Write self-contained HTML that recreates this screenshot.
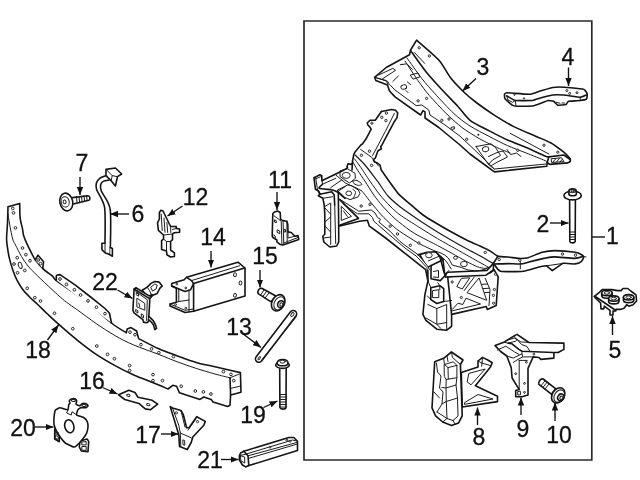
<!DOCTYPE html>
<html><head><meta charset="utf-8"><title>Radiator Support Diagram</title>
<style>
html,body{margin:0;padding:0;background:#fff;}
body{width:640px;height:480px;overflow:hidden;font-family:"Liberation Sans",sans-serif;}
svg{display:block;position:absolute;left:0;top:0;will-change:transform;}
.l{font-family:"Liberation Sans",sans-serif;font-size:23px;fill:#111;stroke:#111;stroke-width:0.3;text-anchor:middle;}
.o{fill:#fff;stroke:#141414;stroke-width:1.6;stroke-linejoin:round;stroke-linecap:round;}
.n{fill:none;stroke:#141414;stroke-width:1.6;stroke-linejoin:round;stroke-linecap:round;}
.t{fill:none;stroke:#1c1c1c;stroke-width:1.0;stroke-linejoin:round;stroke-linecap:round;}
.h{fill:#fff;stroke:#1c1c1c;stroke-width:0.95;}
.a{fill:none;stroke:#111;stroke-width:1.35;}
.ah{fill:#111;stroke:none;}
.f{fill:none;stroke:#2a2a2a;stroke-width:1.7;}
</style></head><body>
<svg width="640" height="480" viewBox="0 0 640 480">
<defs>
<marker id="ar" viewBox="0 0 10 8" refX="10" refY="4" markerWidth="8" markerHeight="7" markerUnits="userSpaceOnUse" orient="auto"><path d="M0,0 L10,4 L0,8 Z" fill="#111"/></marker>
</defs>
<g id="frame">
<path class="f" d="M304,21 H591.8 V460 H304 Z"/>
<path class="a" d="M591.8,237 H605" style="stroke-width:1.4"/>
</g>
<g id="p18">
<path class="o" d="M19.7,203.4C19.8,205.9 19.7,214.2 20.2,218.4C20.7,222.6 21.9,225.9 22.5,228.8C23.1,231.6 22.8,232.9 23.6,235.5C24.4,238.1 25.8,241.4 27.2,244.4C28.6,247.4 30.6,251.2 31.9,253.8C33.2,256.3 33.2,257.1 35.2,259.8C37.2,262.5 41.1,267 44,269.7C46.9,272.4 50.5,274.5 52.5,276.2C54.5,278 53.1,278 56,280.3C58.9,282.6 66.8,287.8 70,290C73.2,292.2 71.7,291.1 75,293.5C78.3,295.9 83.9,299.4 90,304.3C96.1,309.2 105.5,318.2 111.5,323C117.5,327.8 123.8,331.2 126.3,332.8L127.2,329L131,327.6L136.6,331L138.6,338.6L138.6,338.6C142,340.3 152.3,345.9 158.8,348.8C165.2,351.6 171.2,353.6 177.5,355.9C183.8,358.2 190,360.6 196.2,362.4C202.5,364.2 209.4,365.5 215,366.8C220.6,368.1 225.8,369.2 230,370.2C234.2,371.2 238.7,372.2 240.4,372.6L241,392.3L230.6,395L230,405.3L227.6,406.4L227.6,406.4L213,402L211.2,399.4L203.8,397L200,399.4L179.4,392.8L176.6,386.2L172.8,385.3L168,389L168,389C165.4,387.9 158.2,384.8 152.5,382.5C146.8,380.2 140,377.8 133.8,375C127.5,372.2 121.2,369 115,365.6C108.8,362.2 102.5,358.6 96.2,354.4C90,350.2 83.8,345.3 77.5,340.3C71.2,335.3 63.8,328.8 58.8,324.4C53.8,320 51,317.3 47.5,314C44,310.7 41.1,307.7 38,304.7C34.9,301.7 31.4,298.9 28.8,296.2C26.1,293.6 24.2,291.6 22.2,288.8C20.2,285.9 18.2,282.5 16.6,279.4C15,276.3 14,273.5 12.8,270C11.6,266.5 10.4,262.7 9.4,258.4C8.4,254.1 7.5,248 7,244.4C6.5,240.8 6.5,240.6 6.6,237C6.7,233.4 7.3,228.1 7.5,223C7.7,217.9 7.9,209.4 8,206.7Z" />
<path class="t" d="M8,213.8C8.2,215.3 8.9,219.9 9.4,223C9.9,226.1 10.7,229.7 11.2,232.5C11.8,235.3 12.3,237.9 13,240C13.7,242.1 14.1,242.2 15.5,245C16.9,247.8 19.5,253.1 21.6,256.6C23.7,260.1 25.4,262.8 28,266C30.6,269.2 33.5,271.9 37.5,275.8C41.5,279.8 48,285.8 52.2,289.7C56.4,293.6 59.5,296.5 62.5,299C65.5,301.5 67.5,302.9 70,304.7C72.5,306.5 73.1,306.9 77.5,310C81.9,313.1 90,319.3 96.2,323.6C102.5,327.9 108.8,332 115,335.6C121.2,339.2 126.5,341.9 133.8,345C141,348.1 151.5,351.6 158.8,354.4C166,357.2 171.2,359.6 177.5,361.9C183.8,364.2 190,366.4 196.2,368.4C202.5,370.4 209.4,372.4 215,374C220.6,375.6 227.5,377.2 230,377.8" />
<path class="n" d="M230,377.8L230.6,395" />
<path class="t" d="M230,377.8L239.4,374" />
<path class="t" d="M230.5,388.4L240.8,386" />
<path class="o" d="M35.2,259.8L38,255.2L43.6,261.7L42.7,268.6" />
<path class="o" d="M56.3,280L56.3,276L57.2,275L60,274.6L75,284.8L90,296.5L105,308.5L109.4,313L111.5,323" />
<circle class="h" cx="12.8" cy="208.4" r="1.35"/><circle class="h" cx="13.5" cy="212.9" r="1.35"/><circle class="h" cx="15.4" cy="227.9" r="1.35"/><circle class="h" cx="22.5" cy="248" r="1.35"/><circle class="h" cx="25.9" cy="254.7" r="1.35"/><circle class="h" cx="30" cy="260.7" r="1.35"/><circle class="h" cx="17.2" cy="257.7" r="1.35"/><circle class="h" cx="14" cy="264" r="1.35"/><circle class="h" cx="24.8" cy="270.5" r="1.35"/><circle class="h" cx="17.5" cy="272.8" r="1.35"/><circle class="h" cx="27.2" cy="288.3" r="1.35"/><circle class="h" cx="34.8" cy="297.7" r="1.35"/><circle class="h" cx="40.5" cy="301" r="1.35"/><circle class="h" cx="54.5" cy="313.3" r="1.35"/><circle class="h" cx="72.8" cy="328.7" r="1.35"/><circle class="h" cx="96.8" cy="346" r="1.35"/><circle class="h" cx="107.5" cy="354.4" r="1.35"/><circle class="h" cx="114.4" cy="358.7" r="1.35"/><circle class="h" cx="129.6" cy="365.6" r="1.35"/><circle class="h" cx="129.6" cy="370.5" r="1.35"/><circle class="h" cx="153" cy="374.6" r="1.35"/><circle class="h" cx="153" cy="380.6" r="1.35"/><circle class="h" cx="162.5" cy="380.6" r="1.35"/><circle class="h" cx="181.2" cy="386.2" r="1.35"/><circle class="h" cx="195.3" cy="391" r="1.35"/><circle class="h" cx="203.4" cy="391.9" r="1.35"/><circle class="h" cx="210.9" cy="394" r="1.35"/><circle class="h" cx="141" cy="344.6" r="1.35"/><circle class="h" cx="151.6" cy="348.8" r="1.35"/><circle class="h" cx="158.8" cy="352.7" r="1.35"/><circle class="h" cx="173.4" cy="356.6" r="1.35"/><circle class="h" cx="223.4" cy="371.6" r="1.35"/><circle class="h" cx="231" cy="374.4" r="1.35"/><circle class="h" cx="233.8" cy="380.6" r="1.35"/><circle class="h" cx="38.2" cy="260" r="1.35"/><circle class="h" cx="40.5" cy="263.6" r="1.35"/><circle class="h" cx="130" cy="332.2" r="1.35"/><circle class="h" cx="135" cy="334.7" r="1.35"/><circle class="h" cx="60" cy="279" r="1.35"/><circle class="h" cx="66.5" cy="284.4" r="1.35"/><circle class="h" cx="74.4" cy="289.8" r="1.35"/><circle class="h" cx="80.6" cy="295" r="1.35"/><circle class="h" cx="88" cy="300.9" r="1.35"/><circle class="h" cx="96.5" cy="307.2" r="1.35"/><circle class="h" cx="105" cy="313.6" r="1.35"/><ellipse class="h" cx="20.2" cy="265.4" rx="1.8" ry="3.2" transform="rotate(-18 20.2 265.4)"/>
</g>
<g id="p7">
<path class="o" d="M72.5,197.6L87.8,195.7C90.2,195.6 90.6,199.6 88.8,200.2L88.8,200.2L73.3,204" />
<path class="t" d="M76.5,196.7L77.1,203.1" />
<path class="t" d="M79,196.4L79.6,202.3" />
<path class="t" d="M81.5,196.1L82.1,201.6" />
<path class="t" d="M84,195.8L84.6,200.8" />
<path class="t" d="M86.5,195.5L87.1,200.1" />
<ellipse class="o" cx="66.3" cy="202" rx="6.4" ry="9" transform="rotate(-12 66.3 202)"/><ellipse class="t" cx="65.2" cy="201.9" rx="4.0" ry="5.2" transform="rotate(-12 65.2 201.9)"/><ellipse class="t" cx="64.6" cy="201.8" rx="1.5" ry="1.9" transform="rotate(-12 64.6 201.8)"/>
</g>
<g id="p6">
<path class="o" d="M107,175.4C106,175.8 101.2,177.3 99.8,178.3C98.4,179.3 96.8,181.5 96.4,183C96,184.5 95.5,186.2 96.6,189.5C97.7,192.8 103.5,200.3 104.6,207.5C105.7,214.7 104.9,238.5 105,243.3L101.9,243.3L101.9,249.6L105,252.7L110.2,254.8L110.2,254.8C110.2,248.8 111.4,218 110.2,209.5C109,201 102.7,194.5 101.4,191.3C100.1,188.1 100.4,186.5 100.6,185.2C100.8,183.9 101.9,182.1 103.2,181.4C104.5,180.7 109.1,180 110,179.8Z" />
<path class="t" d="M105,243.3L105,252.7" />
<path class="o" d="M110.2,247.5L112.4,248.5L112.4,256.3L110.2,254.8" />
<path class="o" d="M106,169.4L115.4,168L121.7,174L117.5,176.7L115.4,186L111.2,180.8L106,175.6Z" />
<path class="t" d="M106,169.4L112.2,175.6L117.5,176.7" />
<path class="t" d="M112.2,175.6L111.2,180.8" />
</g>
<g id="p12">
<path class="o" d="M160.9,210.2L163,211L170.6,226.5L176.2,226.5L176.2,228.4L179.6,229L179.6,232.2L174.4,232.8L172.5,234L172.5,239.7L170.6,241.5L170.6,250L174.4,252.8L174.4,256.5L170.6,257L166.9,254.7L166.5,251L161.6,249.6L161.6,240.6L163.5,239L163.5,235L158.4,230.3L157.5,222.8L159.4,219L159.4,212.5Z" />
<path class="t" d="M161.2,214L162.2,230.5" />
<path class="t" d="M164,218L165,232.3" />
<path class="t" d="M166.9,222.5L167.7,232.5" />
<path class="t" d="M163.5,235L172.5,234" />
<path class="t" d="M170.6,226.5L170.8,232.5" />
<path class="t" d="M163.5,239L166.5,241.5L166.5,251" />
<path class="t" d="M166.5,241.5L170.6,241.5" />
<path class="t" d="M172.5,229.5L176.2,228.4" />
</g>
<g id="p11">
<path class="o" d="M272.8,213.8L274.4,211.9L277.5,211L280.2,212.5L280.6,219.4L283,220.6L286.9,221.2L287.8,224.4L288,231.9L291.2,232.5L295,236.2L298,235.6L298.8,239.4L283,245L280,244.4L276.9,241.9L276.9,240L273,237.5L272.2,236.2Z" />
<path class="t" d="M273.8,215.6L281.2,221.2L281.9,243.5" />
<path class="t" d="M283,220.6L283.8,244.2" />
<path class="t" d="M286.9,221.2L287.2,243" />
<path class="t" d="M288,231.9L288,238L295,236.2" />
<path class="t" d="M283.8,243L298,237.5" />
<path class="t" d="M274.8,220L276.3,220.6L276.3,222.8L274.8,222.2Z" />
<path class="t" d="M277.5,230L279.8,231L279.8,233.6L277.5,232.6Z" />
<path class="t" d="M284.4,229.4L285.6,229.4L285.6,232L284.4,232Z" />
<path class="t" d="M273.5,235L275.2,236L275.2,238.5" />
</g>
<g id="p14">
<path class="o" d="M186.6,277.3L238,262.2L245,268L245,296L193.6,311.2L185,312.5L170,306L170,304L176.4,302.3L176.4,288.3L171.7,286L171.7,283.6L184.2,279.7Z" />
<path class="n" d="M193.6,283.6L244.6,268" />
<path class="t" d="M191.5,280.6L239.5,265.8" />
<path class="n" d="M186.6,277.3L191.5,280.6L193.6,283.6L193.6,311.2" />
<path class="n" d="M171.7,286L185,291.4L190.5,289.8L193.6,283.6" />
<path class="t" d="M178.8,289L178.8,301.5L189,300" />
<path class="t" d="M189,291L189,311.8" />
<path class="t" d="M176.4,302.3L178.8,301.5" />
<path class="t" d="M170,304L185,310.3L193.6,309" />
<ellipse class="h" cx="235" cy="274.7" rx="1.4" ry="1.9" transform="rotate(15 235 274.7)"/><ellipse class="h" cx="240.5" cy="283" rx="1.4" ry="1.9" transform="rotate(15 240.5 283)"/><ellipse class="h" cx="235" cy="295.3" rx="1.4" ry="1.9" transform="rotate(15 235 295.3)"/><circle class="h" cx="176.9" cy="284" r="0.9"/><circle class="h" cx="185.8" cy="288" r="0.9"/><circle class="h" cx="175.6" cy="304.6" r="0.9"/><circle class="h" cx="185.8" cy="308.2" r="0.9"/>
</g>
<g id="p15">
<path class="o" d="M261.8,288.2 L275.8,296 L271,301.8 L258.2,293.6 C257,291 259,288 261.8,288.2Z" />
<path class="t" d="M264.3,289.6L260.5,295.1" />
<path class="t" d="M266.8,291L262.8,296.6" />
<path class="t" d="M269.4,292.4L265.1,298" />
<ellipse class="o" cx="278.2" cy="302.8" rx="6.2" ry="8.6" transform="rotate(28 278.2 302.8)"/><ellipse class="t" cx="279.2" cy="303.3" rx="4.8" ry="7" transform="rotate(28 279.2 303.3)"/><ellipse class="o" cx="280.8" cy="304.2" rx="3" ry="3.6" transform="rotate(28 280.8 304.2)"/><ellipse class="t" cx="281.3" cy="304.5" rx="1.4" ry="1.7" transform="rotate(28 281.3 304.5)"/>
</g>
<g id="p13">
<path class="o" d="M261.6,361 L295.9,316 A3.4,3.4 0 0 0 290.5,311.8 L256.2,356.8 A3.4,3.4 0 0 0 261.6,361Z" />
<path class="t" d="M262.2,359.3L296.2,316.9" />
<ellipse class="h" cx="292.4" cy="314.6" rx="1.3" ry="2.2" transform="rotate(35 292.4 314.6)"/><ellipse class="h" cx="259.2" cy="358.2" rx="0.8" ry="1.8" transform="rotate(35 259.2 358.2)"/>
</g>
<g id="p22">
<path class="o" d="M142.2,290.2L147.2,287.1L151,283.4L154.8,281.5L159.1,282.1L162.2,285.9L159.8,288.4L157.2,293.4L152.9,295.2L150.4,297.8L149.1,298.4Z" />
<path class="t" d="M151,287L154.8,284L157.2,285.2L156,289L152.9,290.9Z" />
<path class="t" d="M147.2,287.1L149.5,290.5L151.5,295" />
<path class="o" d="M134.1,289L136,287.8L149.1,295.9L152.2,294.6L150.4,297.8L149.1,298.4" />
<path class="o" d="M134.1,289L149.1,298.4L149.8,300.2L148.5,321.5L146.6,322.8L143.5,322.1L142.9,319.6L134.1,312.8L132.9,310.2Z" />
<path class="t" d="M137.2,298.4L144.8,303.4L144.8,310.2L137.2,307.1Z" />
<path class="t" d="M136.6,292.8L138.5,294L138.5,296.2L136.6,295Z" />
<path class="t" d="M136,309.6L137.9,310.8L137.9,313L136,311.8Z" />
<path class="t" d="M141.6,314L143.5,315.2L143.5,317.8L141.6,316.6Z" />
<path class="t" d="M135.6,291.3L147.3,299.8L146.6,320.5" />
<path class="t" d="M138.8,303L139.8,306.8" />
<path class="o" d="M149.1,316.6 C151.5,318.5 154.6,322 155.6,325 L156.6,328.4 L154.75,329.6 L153.75,325.6 C153,323.2 151,321.4 148.6,319.6" />
</g>
<g id="p16">
<path class="o" d="M118.6,394.8L128.8,390.2L135,392.5L138,397.2L152.2,400.3L157.7,404.2L150.6,409.7L145.2,408.9L138.9,403.4L124.8,399.5Z" />
<ellipse class="h" cx="128.4" cy="395.3" rx="1.7" ry="1.1" transform="rotate(10 128.4 395.3)"/><ellipse class="h" cx="148.3" cy="404.7" rx="1.7" ry="1.1" transform="rotate(10 148.3 404.7)"/>
</g>
<g id="p20">
<path class="o" d="M54.7,429L54.7,439L59.3,441.7L59.3,435.7Z" />
<path class="o" d="M80,441L87.3,439L88.7,441.7L88,451.7L81.3,451L79.3,447Z" />
<path class="o" d="M54,417C54.1,416.4 54.7,411.2 55.3,410.3C55.9,409.4 59.2,407.8 60,407.7C60.8,407.6 63.3,408.8 64,409C64.7,409.2 67.6,410.1 68,409.7C68.4,409.3 68.5,405.6 68.7,405C68.9,404.4 69.9,403.4 70,403C70.1,402.6 69.2,401.4 69.3,401C69.4,400.6 70.7,399.2 71.3,399C71.9,398.8 74.8,398.8 75.3,399C75.8,399.2 76.6,400.5 76.7,401C76.8,401.5 75.7,403.9 76,404.3C76.3,404.7 79.4,405.8 80,405.7C80.6,405.6 81.4,403.9 82,403.7C82.6,403.5 85.4,403.5 86,403.7C86.6,403.9 88,405.3 88,405.7C88,406.1 86.7,407.5 86,407.7C85.3,407.9 81.4,407.5 80.7,407.7C80,407.9 78.4,409 78,409.7C77.6,410.4 76.1,414.3 76.7,415C77.3,415.7 83,417.1 84,417.7C85,418.3 86.9,420.8 87.3,421.7C87.7,422.6 88.1,425.9 88,427C87.9,428.1 87.1,431.9 86.7,433C86.3,434.1 84,437.4 83.3,438.3C82.6,439.2 80.1,442.2 79.3,443C78.5,443.8 75.5,446.7 74.7,447C73.9,447.3 71.6,446.1 70.7,445.7C69.8,445.3 66.2,443.7 65.3,443C64.4,442.3 61.5,438.8 60.7,437.7C59.9,436.6 57.3,433 56.7,431.7C56.1,430.4 54.3,425.7 54,424.3C53.7,422.9 54,417.7 54,417Z" />
<ellipse class="o" cx="69.3" cy="426.3" rx="4.5" ry="6.6" transform="rotate(-15 69.3 426.3)"/><ellipse class="t" cx="73.4" cy="400.4" rx="2.1" ry="1" transform="rotate(5 73.4 400.4)"/><ellipse class="t" cx="84.1" cy="405.4" rx="2.1" ry="1" transform="rotate(5 84.1 405.4)"/><path class="t" d="M68,409.7L66.7,413L71.3,415L72,411.7L76.7,415" />
<path class="t" d="M55.6,431.2L58.2,432.5L58.2,435L55.6,433.8Z" />
<path class="t" d="M55.6,435.4L58.2,436.7L58.2,439.6L55.6,438.3Z" />
<path class="t" d="M82.2,442L86.2,441.5L86.2,444.8L82.2,445Z" />
<path class="t" d="M82.2,446.6L86.2,446.4L86.2,450.4L82.2,450.2Z" />
</g>
<g id="p17">
<path class="o" d="M170.2,406.6L172.5,408L181,410.5L183.4,415L186.6,427.7L189,427.7L196.7,416.7L205.3,421.4L203.8,425.3L192.8,437L191.2,442.5L187.3,449.5L179.5,446.4L178.8,434.7Z" />
<path class="t" d="M172.5,408L178.8,425.3L180.3,433L191.2,437.8" />
<path class="t" d="M181,410.5L185,427" />
<path class="t" d="M196.7,416.7L195.2,420L188,430" />
<path class="t" d="M180.3,433L180.8,446.5" />
<circle class="h" cx="176.4" cy="412.8" r="1.1"/><circle class="h" cx="197.5" cy="421.6" r="1.1"/><path class="t" d="M183.2,440L184.6,440.4L184.8,445.2L183.4,444.8Z" />
</g>
<g id="p19">
<path class="o" d="M279.7,367 L279.9,407.5 C280.5,409.6 285.5,409.6 286,407.5 L286.2,367 Z" />
<path class="t" d="M279.8,394.5L286.1,394.5" />
<path class="t" d="M279.8,397L286.1,397" />
<path class="t" d="M279.8,399.5L286.1,399.5" />
<path class="t" d="M279.8,402L286.1,402" />
<path class="t" d="M279.8,404.5L286.1,404.5" />
<path class="t" d="M279.8,407L286.1,407" />
<ellipse class="o" cx="282.5" cy="365" rx="6.8" ry="3.4" transform="rotate(0 282.5 365)"/><path class="o" d="M277.2,363.2 C277.2,358.2 288,358.2 288,363.2 C288,366.6 277.2,366.6 277.2,363.2Z" />
<ellipse class="t" cx="282.6" cy="361.6" rx="2.6" ry="1.5" transform="rotate(0 282.6 361.6)"/>
</g>
<g id="p21">
<path class="o" d="M239.4,455.6L240.6,453L243.8,451.2L288.8,437.5L293.8,437.5L297.5,441.2L297.5,450.6L248.8,465.6L245.6,466.9L242.5,465L239.4,460Z" />
<path class="t" d="M245,454.4L292.5,440L297.5,441.2" />
<path class="t" d="M248,455.8L297.5,442.3" />
<path class="t" d="M248.8,458.3L297.5,444" />
<path class="n" d="M243.8,451.2L248,455.8L248.8,465.6" />
<path class="t" d="M240.8,455.8L244.6,457L244.8,463L241.2,461Z" />
<path class="t" d="M239.4,455.6L245,454.4" />
<circle class="h" cx="270" cy="447.2" r="0.9"/><circle class="h" cx="286.9" cy="440.2" r="1"/><circle class="h" cx="290" cy="441.2" r="1"/>
</g>
<g id="p3">
<path class="o" d="M416.6,40.2C419.6,42.8 434.3,55.1 438.8,60C443.2,64.9 446.8,72.8 450,77C453.2,81.2 459.5,87.8 463,91.2C466.5,94.7 472,99.3 476.2,102.5C480.5,105.7 490,112.4 495,115.6C500,118.8 508.3,123.8 513.8,126.6C519.2,129.4 530.7,134.1 535.6,136.2C540.5,138.4 546.8,140.7 550.6,142.8C554.4,144.9 561.1,150.1 563.8,152.2C566.4,154.3 569.4,157.9 570.3,158.8L570.3,161.6L567.5,162.9L549.7,164.4L547.2,162.5L546.9,166.2L494.4,171.9L494.4,171.9L470,154L460,145L438.8,127.5L425,118L425,111.9L423,110.6L420.6,115L395,96.9L389.5,91L387.5,85L375.8,80.5L374.6,77.3L374.6,77.3L386.2,67.5L409.5,54.8L410.6,50L416.6,40.2Z" />
<path class="t" d="M374.6,77.3L387.8,81.5L389.5,84.5L395,90L416.2,105.6L421.9,105L428.8,110L430,115L445,125L460,136.2L470,145.5L494.4,169L546,164" />
<path class="n" d="M410.6,50.6C412.6,53.4 421.8,66.5 425.6,71.2C429.4,76 434.5,81.6 438.8,86.2C443,90.9 453.3,101.5 457.5,106C461.7,110.5 465.8,117 470,120.3C474.2,123.6 483.8,128 488.8,130.6C493.8,133.2 502.5,137.7 507.5,140C512.5,142.3 521.2,145.4 526.2,147.5C531.2,149.6 542,154.7 545,156C548,157.3 548.2,156.8 548.8,156.9" />
<path class="t" d="M407,58C409,60.8 418.3,74 422,78.8C425.7,83.5 430.8,89.1 435,93.8C439.2,98.4 449.1,109.2 453.8,113.5C458.4,117.8 465.3,123 470,126C474.7,129 483.8,133.6 488.8,136.2C493.8,138.9 502.5,143.4 507.5,145.6C512.5,147.8 521.2,151 526.2,153C531.2,155 542.2,159.3 545,160.6C547.8,161.9 547,162.2 547.2,162.5" />
<path class="t" d="M405,61C406.7,63.6 414.7,76 418,80.6C421.3,85.2 425.6,91.2 429.4,95.6C433.2,100 441.9,109.2 446.2,113.5C450.6,117.8 457.5,124.1 462,127.5C466.5,130.9 475.2,136.3 480,139C484.8,141.7 494,146.1 498,148C502,149.9 508.4,152.3 510,153" />
<path class="t" d="M414.4,52.5L424.7,63.4" />
<path class="t" d="M510.3,133.4L548.8,154" />
<path class="n" d="M548.8,156.9L563.8,155L570.3,159.7" />
<path class="n" d="M548.8,156.9L547.2,162.5" />
<path class="t" d="M551.5,158.8L561.5,157.7L564,161.6L552,162.5Z" />
<path class="t" d="M553,162L556,158.5" />
<path class="t" d="M556.5,162L559.5,158.3" />
<path class="t" d="M560,162L562,159.5" />
<path class="t" d="M374.6,77.3L386.2,80.5L388,84.4" />
<path class="t" d="M378.8,75L392.8,68.4L395.6,70.3L382.5,78.8" />
<path class="t" d="M400.3,64.7L406.9,63.8L412.5,69.4" />
<path class="t" d="M392.8,81.5L398.4,76" />
<path class="t" d="M410.6,75L418,73L420,76.9L413.4,79Z" />
<ellipse class="h" cx="403.8" cy="87" rx="2.9" ry="2.2" transform="rotate(-15 403.8 87)"/><path class="t" d="M407.4,81.9L410.6,84.6" />
<path class="t" d="M406,90.6L408,92.6" />
<ellipse class="h" cx="485.6" cy="149.2" rx="3.2" ry="2.5" transform="rotate(-10 485.6 149.2)"/><path class="t" d="M476,146.5L491,143.8L495.5,147.5L500.5,155.5L492.5,160L488.5,164.5" />
<path class="t" d="M488.5,156.5L497,152.5L503,151L507.5,157L497.5,162L491.5,165.5" />
<path class="t" d="M507,149.5L510.5,154.5L516.5,153L521,156.5" />
<path class="t" d="M476,146.5L488.5,164.5L494.4,169" />
<circle class="h" cx="419.2" cy="47.7" r="1.15"/><circle class="h" cx="429.4" cy="55.9" r="1.15"/><circle class="h" cx="418.1" cy="100.9" r="1.15"/><circle class="h" cx="426.6" cy="98.4" r="1.15"/><circle class="h" cx="441.8" cy="120.3" r="1.15"/><circle class="h" cx="449" cy="119" r="1.15"/><circle class="h" cx="466.7" cy="139.2" r="1.15"/><circle class="h" cx="544" cy="145.2" r="1.15"/><circle class="h" cx="557.8" cy="152.2" r="1.15"/><circle class="h" cx="517.8" cy="150.3" r="1.15"/><ellipse class="h" cx="452.8" cy="128.1" rx="1.9" ry="1.2" transform="rotate(-10 452.8 128.1)"/><circle cx="478.4" cy="134.8" r="1" fill="#222"/>
</g>
<g id="p4">
<path class="o" d="M504.4,94.2C504.5,94.1 506.2,92.7 506.7,92.7C507.2,92.7 514.1,93.3 515.3,93.4C516.5,93.5 529.8,94.3 531,94.2C532.2,94.1 539.2,91.3 540.3,91C541.4,90.7 551.6,87.7 552.8,87.5C554,87.3 562.3,87.1 563.8,87.2C565.2,87.3 581.4,88.8 582.5,89C583.6,89.2 585.4,90.7 585.6,91C585.8,91.3 587.2,93.8 587.2,94.2C587.2,94.6 586.8,98.7 586.4,99C586,99.3 581.1,100.4 580.2,100.5C579.3,100.6 569.1,101.1 568.4,101.2C567.7,101.4 566.5,104.2 566,104.4C565.5,104.6 558.1,105.4 557.5,105.2C556.9,105 554.1,101.5 553.6,101.2C553.1,101 548.7,100.4 548,100.5C547.3,100.6 541.1,103.3 540.3,103.6C539.5,103.9 533.7,105.9 532.5,106C531.3,106.1 517.9,106.3 516.9,106.2C515.9,106.2 512.8,105.6 512.2,105.2C511.6,104.8 505.6,99.5 505.2,99C504.8,98.5 504.4,94.4 504.4,94.2Z" />
<path class="n" d="M506.7,95.8C507.1,96 514,100.3 515.3,100.5C516.6,100.7 531.2,100.6 532.5,100.5C533.8,100.4 539.3,98.3 540.3,98C541.3,97.7 551.6,95.2 552.8,95C554,94.8 562.4,94.9 563.8,95C565.1,95.1 579.1,97.3 580.2,97.3C581.3,97.3 586.1,95.1 586.4,95" />
<path class="t" d="M515.3,100.5L516,106" />
<path class="t" d="M506.7,95.8L508,100L512.5,102.3L515.3,100.5" />
<path class="t" d="M580.2,97.3L580.2,100.5" />
<path class="t" d="M556,102.3L560,103.2" />
<path class="t" d="M562,103L564.5,103" />
<circle class="h" cx="566.9" cy="90.6" r="1.0"/><circle class="h" cx="569.7" cy="93.4" r="1.0"/><circle class="h" cx="577" cy="92.7" r="1.0"/><circle class="h" cx="514.5" cy="94.7" r="0.7"/><circle class="h" cx="524" cy="98.4" r="0.7"/>
</g>
<g id="p1">
<path class="o" d="M314,177.8L319.9,174.8L321.8,175.8L321.8,180.7L342.6,170.8L347.6,167.9L346.9,166.9L348,163.8L351.2,164.4L356,160L374,185L376,204L370,220L359.5,221.3L338.7,226.3L338.7,242L336.7,246L329.8,247L323.8,242L322.8,236.2L324.8,234.2L324.8,214.4L324.2,205L322.9,198.3L318.3,195.8L320,194.2L318.3,190.8L315.4,189.2Z" />
<path class="t" d="M313.8,177.5L315.8,178.8L320.5,176.8" />
<path class="t" d="M315.8,178.8L317.5,189.6" />
<path class="t" d="M322,180.4L322.5,184.2L335.8,178.3" />
<path class="n" d="M322.5,184.2C322.2,184.6 318.2,187.7 319.2,188.3C320.2,188.9 330.6,189.6 332.5,190C334.4,190.4 337.1,191.7 338.3,192.5C339.6,193.3 344.3,197.7 345,198.3" />
<path class="n" d="M318.3,190.8L320,194.2L331.7,191.7L334.2,195L334.7,205" />
<path class="t" d="M322.9,198.3L332.5,196.7" />
<path class="t" d="M330.8,187.5L341.7,180" />
<path class="t" d="M337.5,191.7L345,186.7" />
<path class="n" d="M338.3,192.5L338.7,226.3" />
<path class="t" d="M334.7,205L335.7,243.5" />
<path class="t" d="M324.8,206.5L330.7,203L330.7,244.5" />
<path class="t" d="M325,208L330.5,214" />
<path class="t" d="M325,222L330.5,217" />
<path class="t" d="M325,226L330.5,232" />
<path class="t" d="M324,238L330.7,237" />
<path class="n" d="M339.7,199.6L358.5,218.4L339.7,225.3" />
<path class="t" d="M341.6,206.5L351.5,216.4L341.6,220.3Z" />
<path class="t" d="M343.5,211L347.5,216.5" />
<path class="t" d="M340,176L340,170.8L347.5,168.8L355,173.3L355.4,178.3L349.6,183L344.2,179.6Z" />
<path class="t" d="M337.5,190L347.5,185L351.7,185.8L358.3,190L360,193.3L357.9,197L350,199.6L345,197.5Z" />
<path class="t" d="M352.9,189.2C353.3,189.6 355.1,190.6 355.4,191.7C355.7,192.8 355,194.8 354.6,195.8C354.2,196.8 353.5,197.2 353.3,197.5" />
<path class="t" d="M335.8,175L345.8,183.3L356,187.8L361.7,190.8" />
<ellipse class="h" cx="346.2" cy="175.4" rx="4.0" ry="3.0" transform="rotate(0 346.2 175.4)"/><ellipse class="h" cx="348.8" cy="193.3" rx="2.9" ry="2.3" transform="rotate(0 348.8 193.3)"/><path class="t" d="M352.9,181.2C353.4,181.1 355.8,180 357,180.4C358.2,180.8 361.8,183.5 362,184.2C362.2,184.9 359.3,185.5 358.3,185.4C357.3,185.3 354.9,184.3 354.2,183.8C353.5,183.2 353.1,181.6 352.9,181.2" />
<path class="o" d="M419.7,254.4L433.8,250.6L437.5,253.4L440.3,258L444,272.2L445,275L448.8,271.2L490,269.4L494.2,269.9L498.2,276.8L496.2,305.5L487.3,309.5L486.3,306.5L451.6,314.4L451.6,326.3L446.7,330.2L436.8,329.2L425.9,320.3L422.9,314.4L424.9,294.6L427.9,280.8L427.9,269.9L425.9,266Z" />
<path class="t" d="M433.5,271.5L438.5,270.5L438.5,277.5L433.5,277" />
<path class="n" d="M430.8,287.7L439.8,285.7L443.7,288.7L443.7,301.5L436.8,303.5L430.8,299.6Z" />
<path class="t" d="M432.8,290.6L438.8,289.7L438.8,297.6L432.8,297.6Z" />
<path class="t" d="M439.8,285.7L439.8,289.7" />
<path class="t" d="M427.9,280.8L430.8,287.7" />
<path class="t" d="M437.8,282.7L439.8,285.7" />
<path class="t" d="M427.9,304.5L436.8,308.5L436.8,324.3L440.7,328.3" />
<path class="t" d="M436.8,308.5L446.7,304.5L446.7,330.2" />
<path class="t" d="M443.7,301.5L451.6,300.5" />
<path class="t" d="M427.5,296L430.8,299.6" />
<path class="t" d="M426,318L436.8,324.3L446.7,322.5" />
<path class="n" d="M448.8,271.2L447.7,276.8L451.6,314.4" />
<path class="n" d="M447.7,276.8L490.2,272.8L494.2,269.9" />
<path class="t" d="M479.2,278.3L486.7,300.3L467.4,292.8Z" />
<path class="t" d="M461.8,278.3L469.8,277.8L462.3,289L457.1,286.8Z" />
<path class="t" d="M474,277.4L464.2,290.5" />
<path class="t" d="M452.3,309.4L458,303.2L462.8,304.5L466,298.2L480.5,304L452.5,310.8" />
<path class="t" d="M485.2,278.3L490,289.5L489,305.6" />
<path class="t" d="M481.5,284.4L487.6,284" />
<path class="t" d="M483.4,288.6L489.4,288.2" />
<path class="t" d="M484.6,292.6L489.6,292.4" />
<circle class="h" cx="452.2" cy="282" r="1.1"/><circle class="h" cx="461.3" cy="297.5" r="1.1"/><circle class="h" cx="495.5" cy="274.2" r="1.1"/><circle class="h" cx="494.4" cy="289.5" r="1.1"/><circle class="h" cx="493.4" cy="295.4" r="1.1"/><circle class="h" cx="493.6" cy="303.2" r="1.1"/><path class="o" d="M497.8,256.4C499,256.5 505.6,256.8 508,257C510.4,257.2 516.4,258.3 518.8,258.4C521.1,258.5 525.3,258.4 528,257.7C530.7,257 539.1,253 542.2,252.2C545.3,251.4 550.9,250.6 554.7,250.6C558.5,250.6 571.9,251.7 575,252.2C578.1,252.7 580.2,253.9 581.2,254.5C582.3,255.1 583.6,256.4 583.6,257.2C583.6,258 582.3,260.8 581.2,261.6C580.2,262.4 577.1,263.7 575,263.9C572.9,264.1 564.4,263.3 563,263.2L552.3,270.6L546.6,265.8L546.6,265.8C545.8,265.9 541.3,266.5 539,267C536.7,267.5 527.2,270.8 523.4,271.2C519.6,271.7 503.5,271.9 500.6,271.2C497.7,270.5 494.7,264.7 494,264" />
<path class="n" d="M494,264C495.6,264 504.9,263.6 508,263.6C511.1,263.6 518,264.2 520.3,264C522.6,263.8 525.3,263 528,262.3C530.7,261.6 540.6,259 543.8,258.4C546.9,257.8 551.1,256.9 554.7,256.9C558.3,256.9 571.7,258.5 575,258.4C578.3,258.3 582.4,256.6 583.4,256.4" />
<path class="t" d="M520.3,260.3L520.3,268.8" />
<path class="t" d="M497.8,256.6L493.8,262.8" />
<path class="t" d="M546.6,265.8L563,263.4" />
<path class="t" d="M583,256.6L586,256.9" />
<path d="M381.4,111.5L391.6,109.5L395.6,110.2L397.7,112.9L397,117.6L394.3,121.7L382.1,144.7L380.7,146.7L381.4,148.8L378,150.8L376.7,154.2L375.3,158.2L373.3,159.6L374.4,161.9L377.5,163L380,165L381.2,170L383,172.5L383,172.5C383.9,173.8 388.2,180 390,182.5C391.8,185 394.9,189.3 396.2,191C397.6,192.7 397.8,193.3 400,195.3C402.2,197.3 409.4,203.6 412.5,206.2C415.6,208.9 419.7,212.6 423,215C426.3,217.4 433.8,221.8 437.5,224C441.2,226.2 446.6,229.3 450.6,231.5C454.6,233.7 463.6,238.6 467.5,240.5C471.4,242.4 477.1,244.7 480,246C482.9,247.3 487,249.2 489.4,250.6C491.8,252 496.7,255.6 497.8,256.4L493.4,263.4L493.4,270L486,275.2L445.6,277L447.5,272.3L451.2,269L445.6,260.6L440,256L435.5,251.7L427,252.3L418,254.7L428.4,266.9L429.4,269.7L425.6,269.7L405,253.3L385,237.5L369.4,226.2L367.5,220.6L368,214L373,208L365.6,195L361,189.5L366,185L357.5,170L352.5,161.2L353.8,154.4L355,152.1L361.1,144.7L362.4,144L365.8,139.3L371.2,129.1L369.9,127.1L367.9,125L367.2,123L369.9,120.3L375.3,120.3Z" fill="#fff" stroke="none"/>
<path class="n" d="M381.4,111.5L391.6,109.5L395.6,110.2L397.7,112.9L397,117.6L394.3,121.7L382.1,144.7L380.7,146.7L381.4,148.8L378,150.8L376.7,154.2L375.3,158.2L373.3,159.6L374.4,161.9L377.5,163L380,165L381.2,170L383,172.5L383,172.5C383.9,173.8 388.2,180 390,182.5C391.8,185 394.9,189.3 396.2,191C397.6,192.7 397.8,193.3 400,195.3C402.2,197.3 409.4,203.6 412.5,206.2C415.6,208.9 419.7,212.6 423,215C426.3,217.4 433.8,221.8 437.5,224C441.2,226.2 446.6,229.3 450.6,231.5C454.6,233.7 463.6,238.6 467.5,240.5C471.4,242.4 477.1,244.7 480,246C482.9,247.3 487,249.2 489.4,250.6C491.8,252 496.7,255.6 497.8,256.4" />
<path class="n" d="M352,170L352.5,161.2L352.5,161.2L353.8,154.4L355,152.1L361.1,144.7L362.4,144L365.8,139.3L371.2,129.1L369.9,127.1L367.9,125L367.2,123L369.9,120.3L375.3,120.3L381.4,111.5" />
<path class="n" d="M367.5,220.6L369.4,226.2L385,237.5L405,253.3L425.6,269.7L427.9,280.8" />
<path class="n" d="M497.8,256.4L493.4,263.4L493.4,270L486,275.2L445.6,277" />
<path class="n" d="M445.6,277L445.6,274.7L447.5,272.3L486.9,270.5L493.4,263.4" />
<path class="t" d="M394.3,113.5L385.5,131.1L372.6,155.5" />
<path class="t" d="M360.6,149.4L371.9,157.5L378.5,166" />
<path class="t" d="M355,155C356.3,156.3 362,161.5 365,165C368,168.5 374.4,177.1 377.5,181.2C380.6,185.4 385,192.6 388,196C391,199.4 395.9,203.5 400,206.7C404.1,209.9 413.8,216.6 418.8,220C423.8,223.4 432.5,228.9 437.5,232C442.5,235.1 452.2,240.7 456.2,243C460.3,245.3 464.5,247.6 468,249.5C471.5,251.4 479.2,255.3 482.2,257C485.2,258.7 489.1,261.1 490.6,262C492.1,262.9 493,263.2 493.4,263.4" style="stroke-width:1.2"/>
<path class="t" d="M354.4,158.8C355.1,159.8 357.9,163.2 360,166.2C362.1,169.2 367.3,177.4 370,181.2C372.7,185.1 377.3,191.7 380,195C382.7,198.3 387.3,203.3 390,206C392.7,208.7 396.2,212.1 400,214.9C403.8,217.7 413.8,223.8 418.8,227C423.8,230.2 432.2,235.5 437.5,238.6C442.8,241.7 454,247.9 458.8,250.6C463.5,253.3 469.6,256.7 472.8,258.5C476,260.3 480.9,263 483,264.2C485.1,265.4 488,267 488.8,267.4" />
<path class="t" d="M352.5,161.2C353.2,162.4 355.8,167.3 357.5,170C359.2,172.7 362.8,177.9 365,181.2C367.2,184.6 371.4,191.7 373.8,195C376.1,198.3 379.7,202.8 382.5,206C385.3,209.2 391.3,215.5 395,218.8C398.7,222 406.7,228.1 410,230.5C413.3,232.9 416.3,234.5 420,236.5C423.7,238.5 433.2,243.2 437.5,245.5C441.8,247.8 448.4,251.4 452.2,253.5C456,255.6 462.9,259.5 466.2,261.3C469.6,263.1 475,265.9 477.5,266.8C480,267.7 483.5,268.3 485,268.4C486.5,268.5 488.2,267.5 488.8,267.4" />
<path class="t" d="M361.7,190.8C362.2,191.4 364,193.6 365.6,195.6C367.2,197.6 371.3,203.1 373.8,206C376.2,208.9 380.8,214.5 383.8,217.5C386.8,220.5 392.8,226 396.2,228.8C399.8,231.5 406.8,236 410,238C413.2,240 416.8,242.3 420,244C423.2,245.7 431.1,249.4 433.8,250.5C436.4,251.6 439.2,252.3 440,252.6L440,252.6L444.7,255L448.4,258L452.2,265L461.5,267.5L468,270L477.5,271L485,269.3L488.8,267.4" />
<path class="t" d="M340,199.4L358.8,211.2L371.2,210L375,213L377.5,217.5L380.6,219.4L378.8,222L390,231.2L400,241.5L405,245.3L418,254.7L428.4,266.9L429.4,269.7" />
<path class="t" d="M343,204L357.5,213.8L368.8,213.8L372.5,217.5L373.8,221.2L377.5,224.4L392.5,237.5L405,248L416.2,256L427,267.8L427.5,280" />
<path class="n" d="M418,254.7L427,252.3L435.5,251.7L441.5,257.5L443,259.8L431.2,265.5L428.4,266.9" />
<path class="t" d="M428.4,260.8L439.7,256" />
<path class="n" d="M443,259.8L444.5,272.5L445.6,275L440.3,280.6L431,278.8L431,270.3L431.2,265.5" />
<path class="t" d="M440,256L442.8,257.8L445.6,260.6L448.4,264.4L451.2,269" />
<ellipse class="h" cx="428.9" cy="255.2" rx="3.3" ry="2.6" transform="rotate(0 428.9 255.2)"/><ellipse class="h" cx="463.9" cy="264" rx="3.4" ry="2.7" transform="rotate(0 463.9 264)"/><ellipse class="h" cx="455.5" cy="257.8" rx="1.9" ry="1.5" transform="rotate(0 455.5 257.8)"/><circle class="h" cx="386.4" cy="113.1" r="1.2"/><circle class="h" cx="381.8" cy="117.3" r="1.2"/><circle class="h" cx="385.9" cy="120.6" r="1.2"/><circle class="h" cx="369.5" cy="151.2" r="1.2"/><circle class="h" cx="361.4" cy="155.3" r="1.2"/><circle class="h" cx="371.6" cy="165.4" r="1.2"/><circle class="h" cx="361.2" cy="206" r="1.2"/><circle class="h" cx="370" cy="204.4" r="1.2"/><circle class="h" cx="390.2" cy="226.2" r="1.2"/><circle class="h" cx="397.5" cy="234" r="1.2"/><circle class="h" cx="410.3" cy="245.3" r="1.2"/><circle class="h" cx="418.8" cy="243" r="1.2"/><circle class="h" cx="485.2" cy="252.4" r="1.2"/><circle class="h" cx="499.2" cy="259.5" r="1.2"/><circle class="h" cx="519.8" cy="260.2" r="1.2"/><circle class="h" cx="562.5" cy="254" r="1.2"/><circle class="h" cx="575.5" cy="255.2" r="1.2"/><circle class="h" cx="371.9" cy="123.2" r="1.1"/>
</g>
<g id="p2">
<path class="o" d="M569.6,197 L569.8,241.5 C570.5,243.3 574.6,243.3 575.2,241.5 L575.4,197Z" />
<path class="t" d="M569.8,232L575.2,232" />
<path class="t" d="M569.8,234.5L575.2,234.5" />
<path class="t" d="M569.8,237L575.2,237" />
<path class="t" d="M569.8,239.5L575.2,239.5" />
<ellipse class="o" cx="572.6" cy="195.5" rx="8.7" ry="4.4" transform="rotate(0 572.6 195.5)"/><path class="o" d="M568.9,194 L568.9,191 C568.9,188 576.3,188 576.3,191 L576.3,194 C576.3,196.4 568.9,196.4 568.9,194Z" />
<ellipse class="t" cx="572.6" cy="190.9" rx="3.7" ry="1.7" transform="rotate(0 572.6 190.9)"/><ellipse class="t" cx="572.6" cy="190.9" rx="1.8" ry="0.9" transform="rotate(0 572.6 190.9)"/>
</g>
<g id="p5">
<path class="o" d="M594.4,296.4L599,292.7L602.2,289.6L612,289.6L617.3,290.6L621,290.6L623,288.5L627.7,288.5L630.8,291L636,294.8L636.6,301L633,304.7L628.8,306.2L626.7,304.7L624,308.3L620.4,309.4L616.2,309.4L615.7,311L613,311L613,315L610,315L610,310.4L604.3,306.2L603.8,308.9L601,308.9L600.6,303L595.4,298Z" />
<path class="n" d="M594.4,296.4L596,297L615.2,310" />
<path class="o" d="M601.6999999999999,292.9 L601.6999999999999,295.5 C601.6999999999999,299.09999999999997 612.1,299.09999999999997 612.1,295.5 L612.1,292.9" />
<ellipse class="o" cx="606.9" cy="292.9" rx="5.2" ry="2.7" transform="rotate(0 606.9 292.9)"/><ellipse class="t" cx="606.9" cy="292.9" rx="2.7" ry="1.35" transform="rotate(0 606.9 292.9)"/><path class="o" d="M623.4,297.3 L623.4,299.90000000000003 C623.4,303.5 633.8000000000001,303.5 633.8000000000001,299.90000000000003 L633.8000000000001,297.3" />
<ellipse class="o" cx="628.6" cy="297.3" rx="5.2" ry="2.7" transform="rotate(0 628.6 297.3)"/><ellipse class="t" cx="628.6" cy="297.3" rx="2.7" ry="1.35" transform="rotate(0 628.6 297.3)"/><path class="o" d="M608.5999999999999,298.6 L608.5999999999999,301.20000000000005 C608.5999999999999,304.8 619.0,304.8 619.0,301.20000000000005 L619.0,298.6" />
<ellipse class="o" cx="613.8" cy="298.6" rx="5.2" ry="2.7" transform="rotate(0 613.8 298.6)"/><ellipse class="t" cx="613.8" cy="298.6" rx="2.7" ry="1.35" transform="rotate(0 613.8 298.6)"/>
</g>
<g id="p8">
<path class="o" d="M461.3,372.4L478,367L478,361L482.5,357.4L487.8,360L492.2,362.7L490.5,367L475.4,385.7L497.5,396.3L497.5,401.6L462.2,407Z" />
<path class="t" d="M469.2,373.3L485.2,369L471,384.8L467.5,382.2Z" />
<path class="t" d="M464.8,402.5L478,394.5L493,399L464.8,404.3Z" />
<path class="t" d="M478,361L482,363.2L482.5,357.4" />
<path class="t" d="M482,363.2L481.6,366.2" />
<path class="t" d="M482,363.2L490.8,365.6" />
<path class="o" d="M434.7,361.8L443.6,358.3L451.5,352L463,360L460.4,364.5L461.3,389.2L462.2,415.8L458.6,422.9L451.5,425.5L442.7,422L435.6,415.8L432,407.8Z" />
<path class="t" d="M444.5,364.5L453.3,361.8L456.9,365.4L456.9,377.7L446.2,379.5L444.5,376.8Z" />
<path class="t" d="M444.5,364.5L448,367.6L456.9,365.4" />
<path class="t" d="M448,367.6L448.3,379" />
<path class="t" d="M443.6,358.3L444.5,364.5" />
<path class="t" d="M451.5,352L452.5,357.5L460.4,364.5" />
<path class="t" d="M447,356L448,361.5" />
<path class="t" d="M436.5,363L437.5,372L441,376L439.5,388L443,392L442,404L437,412" />
<path class="t" d="M446.2,379.5L446,388L456,385L456.9,377.7" />
<path class="t" d="M441.8,387.5L446,388L446.3,401.5L442,404" />
<path class="t" d="M446.3,401.5L457.5,398L456,385" />
<path class="t" d="M446.3,401.5L447,418.5L453,420.5L458,416L457.5,398" />
<path class="t" d="M437,412L447,418.5" />
<path class="t" d="M442.7,422L447,418.5" />
<path class="t" d="M453,420.5L455,424" />
<path class="t" d="M434,392L439.5,398" />
</g>
<g id="p9">
<path class="o" d="M495.1,345.6L504.5,341.9L514.5,335.6L517,334.4L528.9,342.5L563.9,343.1L563.9,349.4L558.2,352.5L553.9,352.5L553.9,358.1L540.8,359.4L538.9,357.5L533.2,356.9L531.6,360.4L528,368.4L528,394.9L521.9,396.7L515.7,396.7L515.7,390.5L519.2,389.6L512.1,378L511.2,367.5L506.8,356L500.6,351.5Z" />
<path class="t" d="M504.5,341.9L507,340L514.5,338.1L517,339.4L515.8,341.2L508.2,343.1Z" />
<path class="t" d="M514.5,335.6L515.1,338.1L520.8,341.9L528.9,342.5" />
<path class="t" d="M497.6,350L505.8,346.2L514.5,351.9L518.9,354.4" />
<path class="n" d="M508.2,343.1L512,343.8L518.9,349.4L522,351.2L553.2,352.5" />
<path class="t" d="M517,339.4L521.5,344.5L527,346.5L530,351.4" />
<path class="t" d="M506.8,356L513.2,358.1L522,353.8L522.6,356.9L517,360L513.2,362.5" />
<path class="t" d="M522,351.2L522,353.8" />
<path class="t" d="M522.6,356.9L533.2,356.9" />
<path class="t" d="M519.2,360.4L527.2,360.4" />
<path class="t" d="M519.2,360.4L519.2,389.6" />
<path class="t" d="M518,391.5L520.3,391.2L520.5,394.8L518.2,395Z" />
<circle class="h" cx="533.9" cy="354.1" r="0.9"/><circle class="h" cx="526.4" cy="362.2" r="0.9"/><circle class="h" cx="515.7" cy="373.7" r="0.9"/><circle class="h" cx="524.5" cy="383.4" r="0.9"/><circle class="h" cx="524.5" cy="392.3" r="0.9"/>
</g>
<g id="p10">
<path class="o" d="M543.2,379 L555.8,388.8 L551.4,394.2 L538.9,384.4 C537.8,382 540.6,378.4 543.2,379Z" />
<path class="t" d="M545.2,380.6L540.9,386" />
<path class="t" d="M547.2,382.1L542.9,387.5" />
<path class="t" d="M549.2,383.7L544.9,389.1" />
<ellipse class="o" cx="558.2" cy="395.4" rx="6" ry="8.2" transform="rotate(32 558.2 395.4)"/><ellipse class="t" cx="559.2" cy="396.1" rx="4.7" ry="6.7" transform="rotate(32 559.2 396.1)"/><ellipse class="o" cx="560.8" cy="397.4" rx="3" ry="3.5" transform="rotate(32 560.8 397.4)"/><ellipse class="t" cx="561.3" cy="397.8" rx="1.4" ry="1.7" transform="rotate(32 561.3 397.8)"/>
</g>
<g id="arrows">
<g class="a" marker-end="url(#ar)">
<path d="M80,177 V195"/>
<path d="M129,214 H110"/>
<path d="M182.5,206 L167.5,216"/>
<path d="M277,192 V210"/>
<path d="M211,251 V267.5"/>
<path d="M260,270 V287.5"/>
<path d="M242.5,333.5 L261,347.5"/>
<path d="M117.5,290 L132.5,298.5"/>
<path d="M47.5,340 L58.5,325"/>
<path d="M102.5,387.5 L117.5,394"/>
<path d="M35,427 H53.5"/>
<path d="M161,434 H178.5"/>
<path d="M263.5,407.5 L277.5,401"/>
<path d="M221,459.5 H238.5"/>
<path d="M476,78.5 L462.5,91"/>
<path d="M568.5,67.5 V86"/>
<path d="M550,223 H568.5"/>
<path d="M612.5,335 V316"/>
<path d="M477.5,425 V407.5"/>
<path d="M521,415 V397.5"/>
<path d="M555,421 V402.5"/>
</g>
</g>
<g id="labels">
<text class="l" x="612.5" y="244">1</text>
<text class="l" x="543" y="232">2</text>
<text class="l" x="483" y="75">3</text>
<text class="l" x="568" y="64.5">4</text>
<text class="l" x="615" y="357.5">5</text>
<text class="l" x="138" y="222">6</text>
<text class="l" x="82" y="171">7</text>
<text class="l" x="479" y="445">8</text>
<text class="l" x="523" y="437">9</text>
<text class="l" x="559" y="442.5">10</text>
<text class="l" x="280" y="187.5">11</text>
<text class="l" x="195.5" y="205">12</text>
<text class="l" x="239" y="334.5">13</text>
<text class="l" x="213" y="245">14</text>
<text class="l" x="265" y="264">15</text>
<text class="l" x="92" y="389">16</text>
<text class="l" x="148" y="442.5">17</text>
<text class="l" x="38" y="357.5">18</text>
<text class="l" x="253" y="422.5">19</text>
<text class="l" x="23" y="436">20</text>
<text class="l" x="210" y="467.5">21</text>
<text class="l" x="105" y="290">22</text>
</g>
</svg>
</body></html>
